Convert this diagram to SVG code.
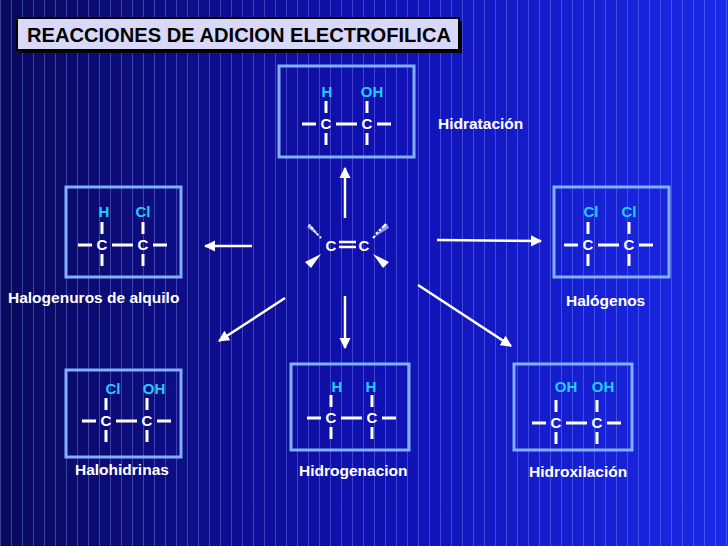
<svg xmlns="http://www.w3.org/2000/svg" xmlns:xlink="http://www.w3.org/1999/xlink" width="728" height="546" viewBox="0 0 728 546">
<defs>
<linearGradient id="bg" x1="0" y1="0" x2="1" y2="0"><stop offset="0" stop-color="#0a0a5e"/><stop offset="0.5" stop-color="#1010b0"/><stop offset="1" stop-color="#1a2ae8"/></linearGradient>
<pattern id="ln" width="11" height="10" patternUnits="userSpaceOnUse"><rect x="0" y="0" width="1" height="10" fill="#8090ff" opacity="0.4"/></pattern>
<marker id="ah" viewBox="0 0 10 10" refX="9" refY="5" markerWidth="4.5" markerHeight="4.5" orient="auto"><path d="M0,0L10,5L0,10z" fill="#fff"/></marker>
<g id="mol">
<text x="0" y="0" class="c">C</text><text x="41" y="0" class="c">C</text>
<path d="M-24,-5H-10M10,-5H31M51,-5H65M0,-28V-16M0,4V16M41,-28V-16M41,4V16" stroke="#fff" stroke-width="3"/>
</g>
</defs>
<style>
text{font-family:"Liberation Sans",Arial,sans-serif;font-weight:bold}
.c{fill:#fff;font-size:15px;text-anchor:middle}
.l{fill:#22ccff;font-size:15px;text-anchor:middle}
.t{fill:#fff;font-size:15.5px}
.box{fill:none;stroke:#80b0ff;stroke-width:3}
.arr{stroke:#fff;stroke-width:2.5;marker-end:url(#ah)}
</style>
<rect width="728" height="546" fill="url(#bg)"/>
<rect width="728" height="546" fill="url(#ln)"/>
<g id="title">
<rect x="20" y="21" width="442" height="32" fill="#000"/>
<rect x="17" y="18" width="442" height="32" fill="#d8d8f8" stroke="#000" stroke-width="2"/>
<text x="27" y="42" font-size="20" fill="#000" textLength="424" lengthAdjust="spacingAndGlyphs">REACCIONES DE ADICION ELECTROFILICA</text>
</g>
<g id="center">
<text x="331" y="251" class="c" font-size="17">C</text><text x="364" y="251" class="c" font-size="17">C</text>
<path d="M339,242H356M339,247H356" stroke="#fff" stroke-width="2.5"/>
<path d="M321,238L319,236M318,235L315.5,232M315,231.5L312,228M312,228L308,224" stroke="#fff" stroke-width="2.2" stroke-dasharray="1.6 1.4" fill="none"/>
<path d="M310,224L321,238L307,227z" fill="#fff" opacity="0.55"/>
<path d="M373,238L387,224L389,228z" fill="#fff" opacity="0.55"/>
<path d="M373,238L375,236M376,234L378,232M379,231L381,229M382,228L386,224" stroke="#fff" stroke-width="2.2" fill="none"/>
<path d="M321,254L305,262L311,268z" fill="#fff"/>
<path d="M373,254L389,262L383,268z" fill="#fff"/>
</g>
<g id="hidratacion"><rect x="279" y="66" width="135" height="91" class="box"/><use xlink:href="#mol" x="326" y="129"/><text x="327" y="97" class="l">H</text><text x="372" y="97" class="l">OH</text><text x="438" y="129" class="t">Hidratación</text></g>
<g id="halogenuros"><rect x="66" y="187" width="115" height="90" class="box"/><use xlink:href="#mol" x="102" y="250"/><text x="104" y="217" class="l">H</text><text x="143" y="217" class="l">Cl</text><text x="8" y="303" class="t">Halogenuros de alquilo</text></g>
<g id="halogenos"><rect x="554" y="187" width="115" height="90" class="box"/><use xlink:href="#mol" x="588" y="250"/><text x="591" y="217" class="l">Cl</text><text x="629" y="217" class="l">Cl</text><text x="566" y="306" class="t">Halógenos</text></g>
<g id="halohidrinas"><rect x="66" y="370" width="115" height="87" class="box"/><use xlink:href="#mol" x="106" y="426"/><text x="113" y="394" class="l">Cl</text><text x="154" y="394" class="l">OH</text><text x="75" y="475" class="t">Halohidrinas</text></g>
<g id="hidrogenacion"><rect x="291" y="364" width="118" height="86" class="box"/><use xlink:href="#mol" x="331" y="423"/><text x="337" y="392" class="l">H</text><text x="371" y="392" class="l">H</text><text x="299" y="476" class="t">Hidrogenacion</text></g>
<g id="hidroxilacion"><rect x="514" y="364" width="118" height="86" class="box"/><use xlink:href="#mol" x="556" y="428"/><text x="566" y="392" class="l">OH</text><text x="603" y="392" class="l">OH</text><text x="529" y="477" class="t">Hidroxilación</text></g>
<g id="connectors">
<line x1="345" y1="218" x2="345" y2="168" class="arr"/>
<line x1="252" y1="246" x2="205" y2="246" class="arr"/>
<line x1="437" y1="240" x2="541" y2="241" class="arr"/>
<line x1="285" y1="298" x2="219" y2="341" class="arr"/>
<line x1="345" y1="296" x2="345" y2="348" class="arr"/>
<line x1="418" y1="285" x2="511" y2="346" class="arr"/>
</g>
</svg>
